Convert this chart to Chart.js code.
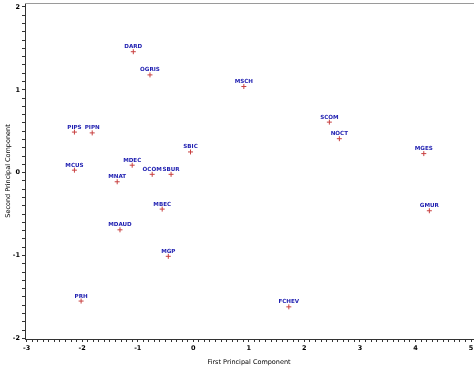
<!DOCTYPE html>
<html>
<head>
<meta charset="utf-8">
<script src="https://cdn.jsdelivr.net/npm/chart.js@4/dist/chart.umd.min.js"></script>
<style>
  html, body { margin: 0; padding: 0; background: #fff; }
  #wrap { width: 474px; height: 370px; }
</style>
</head>
<body>
<div id="wrap"><canvas id="pcaPlot"></canvas></div>
<script>
  const names = ['DARD', 'OGRIS', 'PIPS', 'PIPN', 'MCUS', 'MDEC', 'MNAT', 'OCOM', 'SBUR', 'SBIC',
                 'MSCH', 'SCOM', 'NOCT', 'MGES', 'GMUR', 'MBEC', 'MDAUD', 'MGP', 'PRH', 'FCHEV'];
  const pc1 = [-1.08, -0.78, -2.14, -1.82, -2.14, -1.10, -1.37, -0.74, -0.40, -0.05,
               0.91, 2.45, 2.63, 4.15, 4.25, -0.56, -1.32, -0.45, -2.02, 1.72];
  const pc2 = [1.46, 1.18, 0.49, 0.48, 0.03, 0.09, -0.11, -0.02, -0.02, 0.25,
               1.04, 0.61, 0.41, 0.23, -0.46, -0.44, -0.69, -1.01, -1.55, -1.62];

  // minor ticks every 0.1, labels only on whole numbers
  function tenths(from, to) {
    const out = [];
    for (let i = Math.round(from * 10); i <= Math.round(to * 10); i++) out.push({ value: i / 10 });
    return out;
  }
  function wholeOnly(v) {
    return Math.abs(v - Math.round(v)) < 1e-6 ? String(Math.round(v)) : '';
  }

  const pointLabels = {
    id: 'pointLabels',
    afterDatasetsDraw(chart) {
      const c = chart.ctx;
      const meta = chart.getDatasetMeta(0);
      c.save();
      c.font = 'bold 5.6px "DejaVu Sans"';
      c.fillStyle = '#1c1cb0';
      c.textAlign = 'center';
      c.textBaseline = 'alphabetic';
      meta.data.forEach((pt, i) => {
        c.fillText(names[i], pt.x, pt.y - 3.5);
      });
      c.restore();
    }
  };

  const topLine = {
    id: 'topLine',
    afterDraw(chart) {
      const a = chart.chartArea;
      const c = chart.ctx;
      c.save();
      c.strokeStyle = '#9a9a9a';
      c.lineWidth = 1;
      c.beginPath();
      c.moveTo(a.left, a.top + 0.5);
      c.lineTo(474, a.top + 0.5);
      c.stroke();
      c.restore();
    }
  };

  const ctx = document.getElementById('pcaPlot');

  new Chart(ctx, {
    type: 'scatter',
    data: {
      datasets: [{
        label: 'Scores',
        data: pc1.map((x, i) => ({ x: x, y: pc2[i] })),
        pointStyle: 'cross',
        pointRadius: 2.5,
        pointBorderWidth: 1,
        borderColor: '#c84040',
        backgroundColor: '#c84040'
      }]
    },
    options: {
      responsive: true,
      maintainAspectRatio: false,
      animation: false,
      layout: { autoPadding: false, padding: { top: 3, right: 1, left: 0, bottom: 0 } },
      plugins: {
        legend: { display: false },
        tooltip: { enabled: false }
      },
      scales: {
        x: {
          min: -3.03,
          max: 5.036,
          afterBuildTicks: (s) => { s.ticks = tenths(-3, 5); },
          afterFit: (s) => { s.height = 31; s.paddingLeft = 0; s.paddingRight = 0; },
          border: { color: '#333', width: 1 },
          grid: { drawOnChartArea: false, tickLength: 3, color: '#333' },
          ticks: {
            autoSkip: false,
            maxRotation: 0,
            padding: 2,
            color: '#000',
            font: { family: 'DejaVu Sans', size: 6.5, weight: 'bold' },
            callback: wholeOnly
          },
          title: {
            display: true,
            text: 'First Principal Component',
            color: '#000',
            padding: { top: 2, bottom: 4 },
            font: { family: 'DejaVu Sans', size: 6.5 }
          }
        },
        y: {
          min: -2.008,
          max: 2.048,
          afterBuildTicks: (s) => { s.ticks = tenths(-2, 2); },
          afterFit: (s) => { s.width = 25; s.paddingTop = 0; s.paddingBottom = 0; },
          border: { color: '#333', width: 1 },
          grid: { drawOnChartArea: false, tickLength: 3, color: '#333' },
          ticks: {
            autoSkip: false,
            padding: 2,
            color: '#000',
            font: { family: 'DejaVu Sans', size: 6.5, weight: 'bold' },
            callback: wholeOnly
          },
          title: {
            display: true,
            text: 'Second Principal Component',
            color: '#000',
            padding: { top: 4, bottom: 0 },
            font: { family: 'DejaVu Sans', size: 6.5 }
          }
        }
      }
    },
    plugins: [pointLabels, topLine]
  });
</script>
</body>
</html>
